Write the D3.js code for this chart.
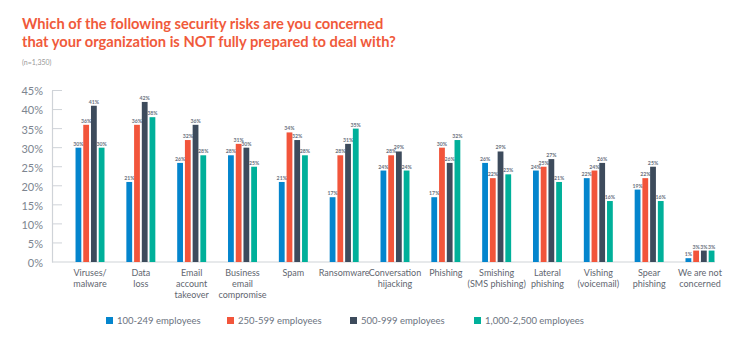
<!DOCTYPE html>
<html><head><meta charset="utf-8">
<script src="https://cdn.jsdelivr.net/npm/d3@7"></script>
<style>
html,body{margin:0;padding:0;background:#fff;}
svg{display:block;font-family:"Lato","Open Sans",sans-serif;}
</style></head>
<body>
<svg id="chart" width="748" height="355"></svg>
<script>
const categories = [
  ["Viruses/","malware"],
  ["Data","loss"],
  ["Email","account","takeover"],
  ["Business","email","compromise"],
  ["Spam"],
  ["Ransomware"],
  ["Conversation","hijacking"],
  ["Phishing"],
  ["Smishing","(SMS phishing)"],
  ["Lateral","phishing"],
  ["Vishing","(voicemail)"],
  ["Spear","phishing"],
  ["We are not","concerned"]
];
const seriesNames = ["100-249 employees","250-599 employees","500-999 employees","1,000-2,500 employees"];
const s100 = [30,21,26,28,21,17,24,17,26,24,22,19,1];
const s250 = [36,36,32,31,34,28,28,30,22,25,24,22,3];
const s500 = [41,42,36,30,32,31,29,26,29,27,26,25,3];
const s1000 = [30,38,28,25,28,35,24,32,23,21,16,16,3];
const yTicks = [0,5,10,15,20,25,30,35,40,45];
const colors = ["#0485cd","#f2553b","#3d4b5c","#00b09a"];

const series = [s100,s250,s500,s1000];
const svg = d3.select("#chart");

// title
svg.append("text").attr("x",22).attr("y",29).attr("fill","#f05a3b")
  .attr("font-size",14.7).attr("font-weight",700).text("Which of the following security risks are you concerned");
svg.append("text").attr("x",22).attr("y",47).attr("fill","#f05a3b")
  .attr("font-size",14.7).attr("font-weight",700).text("that your organization is NOT fully prepared to deal with?");
svg.append("text").attr("x",22).attr("y",65).attr("fill","#999")
  .attr("font-size",7).text("(n=1,350)");

const y = d3.scaleLinear().domain([0,45]).range([262,90.5]);
const x0 = d3.scaleBand().domain(d3.range(categories.length)).range([64.6,725.4]).paddingInner(0.43).paddingOuter(0.215);
const x1 = d3.scaleBand().domain(d3.range(4)).range([0,x0.bandwidth()]).paddingInner(0.25);

// y axis
const yAxis = d3.axisLeft(y).tickValues(yTicks).tickFormat(d=>d+"%").tickSize(0).tickPadding(9);
const ya = svg.append("g").attr("transform","translate(52,0)").call(yAxis);
ya.select(".domain").attr("stroke","#cfd3d8").attr("stroke-width",1.2);
ya.selectAll("text").attr("fill","#7d8590").attr("font-size",11).attr("font-family","Lato,'Open Sans',sans-serif").attr("dy","0.4em");
svg.append("g").selectAll("line").data(yTicks.slice(1)).join("line")
  .attr("x1",52).attr("x2",62).attr("y1",d=>y(d)).attr("y2",d=>y(d))
  .attr("stroke","#cfd3d8").attr("stroke-width",1);
svg.append("line").attr("x1",52).attr("x2",715).attr("y1",y(0)).attr("y2",y(0))
  .attr("stroke","#cfd3d8").attr("stroke-width",1.2);

// bars
const groups = svg.append("g").selectAll("g").data(categories).join("g")
  .attr("transform",(d,i)=>`translate(${x0(i)},0)`);
groups.each(function(c,i){
  const g = d3.select(this);
  series.forEach((s,k)=>{
    g.append("rect").attr("x",x1(k)).attr("width",x1.bandwidth())
      .attr("y",y(s[i])).attr("height",y(0)-y(s[i])).attr("fill",colors[k]);
    g.append("text").attr("x",x1(k)+x1.bandwidth()/2).attr("y",y(s[i])-2)
      .attr("text-anchor","middle").attr("font-size",5.2).attr("font-weight",700)
      .attr("fill","#6b7380").text(s[i]+"%");
  });
  const t = g.append("text").attr("x",x0.bandwidth()/2).attr("y",276).attr("text-anchor","middle")
    .attr("font-size",9).attr("fill","#5f6670");
  c.forEach((line,j)=>t.append("tspan").attr("x",x0.bandwidth()/2).attr("dy",j===0?0:11).text(line));
});

// legend
const legX = [106,227,350,474];
const leg = svg.append("g").selectAll("g").data(seriesNames).join("g")
  .attr("transform",(d,i)=>`translate(${legX[i]},317)`);
leg.append("rect").attr("width",7).attr("height",7).attr("fill",(d,i)=>colors[i]);
leg.append("text").attr("x",11).attr("y",7).attr("font-size",9.5).attr("fill","#6b7380").text(d=>d);
</script>
</body></html>
